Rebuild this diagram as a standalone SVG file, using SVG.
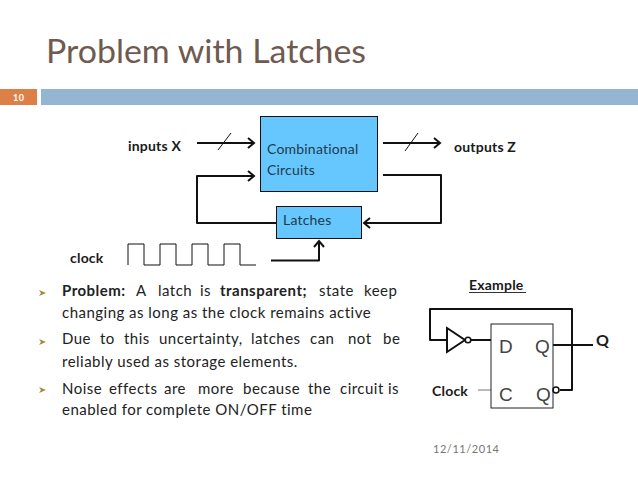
<svg xmlns="http://www.w3.org/2000/svg" width="638" height="479" viewBox="0 0 638 479">
<style>
text{font-family:"Lato","Open Sans","Liberation Sans",sans-serif;fill:#1c1c1c}
.b{font-size:15px;fill:#222;letter-spacing:.48px}
.l{font-size:14px;font-weight:700;fill:#1a1a1a;letter-spacing:.2px}
.n{font-size:14px;fill:#1f3a4a;letter-spacing:.2px}
.g{font-family:"Liberation Sans",sans-serif;font-size:19px;fill:#444}
.w{fill:none;stroke:#111;stroke-width:2;stroke-linejoin:round}
.t{fill:none;stroke:#111;stroke-width:1}
.a{fill:none;stroke:#111;stroke-width:2;stroke-linejoin:round;marker-end:url(#h)}
.c{fill:#fff;stroke:#111;stroke-width:1.6}
.bul{fill:#a08a3a;stroke:none}
</style>
<defs>
<marker id="h" markerUnits="userSpaceOnUse" markerWidth="10" markerHeight="12" refX="8" refY="6" orient="auto">
<path d="M2 1L8 6L2 11" fill="none" stroke="#111" stroke-width="2"/>
</marker>
</defs>
<rect width="638" height="479" fill="#fff"/>
<g id="header">
<text x="46" y="63" font-size="33" style="fill:#6f5a50" textLength="320" lengthAdjust="spacingAndGlyphs">Problem with Latches</text>
<rect x="0" y="89" width="37" height="16" fill="#dd8047"/>
<text x="13" y="100.500" font-size="9" font-weight="700" style="fill:#fff" textLength="11">10</text>
<rect x="41" y="89" width="597" height="16" fill="#94b6d2"/>
</g>
<g id="connectors">
<path class="a" d="M197 143H254"/>
<path class="t" d="M218 150L231 133"/>
<path class="a" d="M383 143H440"/>
<path class="t" d="M405 151L418 133"/>
<path class="a" d="M383 175H441V223H364"/>
<path class="a" d="M276 223H197V176H254"/>
<path class="a" d="M271 260.500H319V241"/>
<path class="t" d="M128 265V244H144V265H160V244H176V265H192V244H208V265H224V244H240V265H256"/>
</g>
<g id="combinational">
<rect x="260.500" y="116.500" width="117" height="75" fill="#66c7ff" stroke="#111" stroke-width="1"/>
<text class="n" x="267" y="154">Combinational</text>
<text class="n" x="267" y="175">Circuits</text>
</g>
<g id="latches">
<rect x="276.500" y="206.500" width="85" height="32" fill="#66c7ff" stroke="#111" stroke-width="1"/>
<text class="n" x="283" y="225">Latches</text>
</g>
<g id="labels">
<text class="l" x="128" y="151">inputs X</text>
<text class="l" x="454" y="152">outputs Z</text>
<text class="l" x="70" y="263" font-size="13">clock</text>
</g>
<g id="bullets">
<path class="bul" d="M39 290L46 293L39 296L41 293Z"/>
<path class="bul" d="M39 339L46 342L39 345L41 342Z"/>
<path class="bul" d="M39 387L46 390L39 393L41 390Z"/>
<text class="b" y="296"><tspan x="62" font-weight="700">Problem:</tspan><tspan x="136">A</tspan><tspan x="158">latch</tspan><tspan x="200">is</tspan><tspan x="220" font-weight="700">transparent;</tspan><tspan x="319">state</tspan><tspan x="364">keep</tspan></text>
<text class="b" x="62" y="318">changing as long as the clock remains active</text>
<text class="b" y="344"><tspan x="62">Due</tspan><tspan x="100">to</tspan><tspan x="124">this</tspan><tspan x="159">uncertainty,</tspan><tspan x="251">latches</tspan><tspan x="310">can</tspan><tspan x="348">not</tspan><tspan x="383">be</tspan></text>
<text class="b" x="62" y="367">reliably used as storage elements.</text>
<text class="b" y="394"><tspan x="62">Noise</tspan><tspan x="109">effects</tspan><tspan x="164">are</tspan><tspan x="198">more</tspan><tspan x="243">because</tspan><tspan x="308">the</tspan><tspan x="340">circuit</tspan><tspan x="388">is</tspan></text>
<text class="b" x="62" y="415">enabled for complete ON/OFF time</text>
</g>
<g id="example">
<text class="l" x="469" y="290">Example</text>
<path d="M469 292.500H526" stroke="#333" stroke-width="1"/>
<path class="w" d="M447 340H430V309H572V390H560"/>
<path class="w" d="M470 340H491M553 345H593"/>
<path d="M447 328L465 340L447 352Z" fill="#fff" stroke="#111" stroke-width="2"/>
<circle class="c" cx="468" cy="340" r="2.800"/>
<path d="M478 390H491" stroke="#777" stroke-width="1"/>
<rect x="491" y="324" width="62" height="84" fill="none" stroke="#222" stroke-width="1"/>
<text class="g" x="499" y="353">D</text>
<text class="g" x="535" y="353">Q</text>
<text class="g" x="499" y="401">C</text>
<text class="g" x="536" y="401">Q</text>
<circle class="c" cx="556" cy="390" r="3"/>
<text class="l" x="596" y="346" style="font-size:16px">Q</text>
<text class="l" x="432" y="396">Clock</text>
</g>
<text x="433" y="453" font-size="11" style="fill:#777" textLength="66">12/11/2014</text>
</svg>
